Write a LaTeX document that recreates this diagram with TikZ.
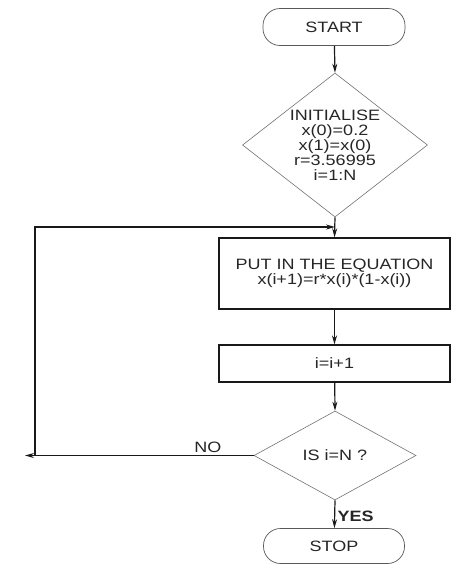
\documentclass[tikz,border=0pt]{standalone}
\usepackage{fontspec}
\setmainfont[FakeStretch=1.2]{Liberation Sans}
\usetikzlibrary{shapes.geometric,arrows.meta}
\tikzset{
  every node/.style={font=\fontsize{15}{15}\selectfont, text=black!85},
  term/.style={draw=black!65, line width=0.7pt, rounded corners=17pt, minimum width=142pt, minimum height=37pt, inner sep=0pt},
  procbox/.style={draw=black!90, line width=1.2pt, minimum width=231pt, inner sep=0pt},
  dia/.style={diamond, draw=black!55, line width=0.6pt, inner sep=0pt},
  conn/.style={draw=black!90, line width=1.2pt, -{Stealth[length=9pt,width=5pt]}},
  plain/.style={draw=black!90, line width=1.2pt}
}
\begin{document}
\begin{tikzpicture}[x=1pt,y=-1pt]
\useasboundingbox[fill=white] (0,0) rectangle (474,573);
\node[term] (start) at (334,27) {START};
\node[dia, minimum width=185pt, minimum height=144pt] (d1) at (335,145) {};
\node[align=center] (d1t) at (335,145) {INITIALISE\\x(0)=0.2\\x(1)=x(0)\\r=3.56995\\i=1:N};
\node[procbox, minimum height=71pt, align=center] (eq) at (334.5,273.5) {PUT IN THE EQUATION\\x(i+1)=r*x(i)*(1-x(i))};
\node[procbox, minimum height=37pt] (inc) at (334.5,363.5) {i=i+1};
\node[dia, minimum width=162pt, minimum height=89pt] (d2) at (335,455.5) {};
\node (d2t) at (335,455) {IS i=N ?};
\node[term, minimum width=141pt, minimum height=35pt] (stop) at (334,546) {STOP};
\coordinate (join) at (335,227);
\coordinate (noend) at (25,455.5);
\coordinate (corner) at (35,455.5);
\draw[conn] (start) -- (d1.north);
\draw[conn] (d1.south) -- (eq.north);
\draw[conn] (eq) -- (inc);
\draw[conn] (inc) -- (d2.north);
\draw[conn] (d2.south) -- node[right, xshift=-1pt, yshift=-2pt, font=\fontsize{15}{15}\selectfont\bfseries]{YES} (stop);
\draw[conn] (d2.west) -- node[above, pos=0.2, yshift=-1pt]{NO} (noend);
\draw[conn] (corner) |- (join);
\end{tikzpicture}
\end{document}
